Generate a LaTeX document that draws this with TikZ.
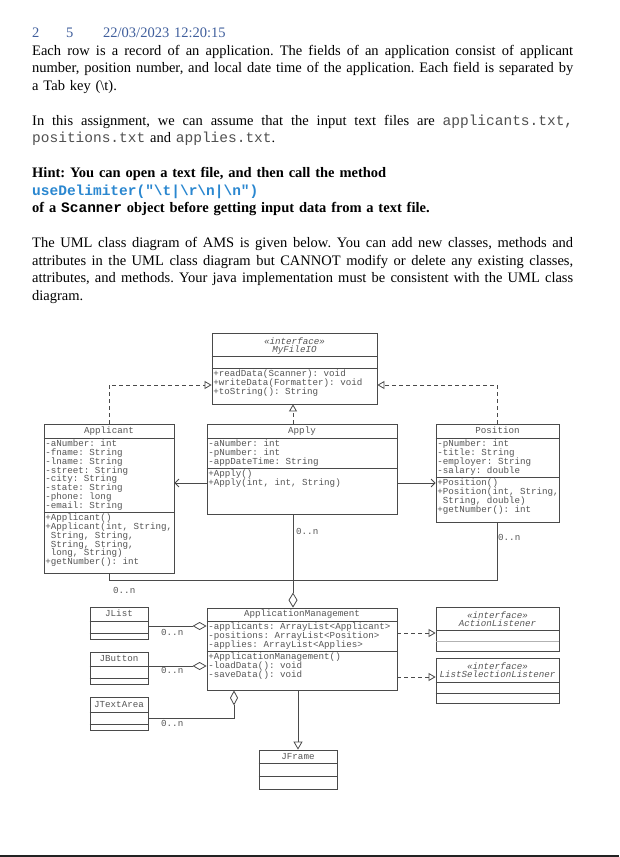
\documentclass[tikz,border=0pt]{standalone}
\usepackage{fontspec}
\setmainfont{Liberation Serif}
\setmonofont{Liberation Mono}
\usetikzlibrary{arrows.meta, positioning, fit}
\definecolor{clrDate}{HTML}{3F5E9C}
\definecolor{clrCode}{HTML}{505050}
\definecolor{clrHint}{HTML}{2A87D0}
\definecolor{clrLine}{HTML}{4A4A4A}
\definecolor{clrMember}{HTML}{555555}
\definecolor{clrBar}{HTML}{222222}

\begin{document}
\begin{tikzpicture}[
  x=1pt, y=-1pt,
  prose/.style = {
    anchor=north west,
    inner sep=0pt,
    text width=541pt,
    font={\fontsize{14.5}{17.5}\selectfont\frenchspacing\setlength\parindent{0pt}}
  },
  classbox/.style = {draw=clrLine, line width=0.8pt, inner sep=0pt},
  compsep/.style = {draw=clrLine, line width=0.8pt},
  classname/.style = {
    inner sep=0pt,
    font=\ttfamily\fontsize{9.2}{8.8}\selectfont,
    text=clrMember,
    text height=6.2pt, text depth=1.8pt
  },
  ifacename/.style = {
    inner sep=0pt, align=center,
    font=\ttfamily\itshape\fontsize{9.2}{8.4}\selectfont,
    text=clrMember
  },
  members/.style = {
    anchor=north west,
    inner xsep=1.5pt, inner ysep=1.9pt,
    align=left,
    font=\ttfamily\fontsize{9.2}{8.8}\selectfont,
    text=clrMember
  },
  mult/.style = {anchor=west, inner sep=0pt, font=\ttfamily\fontsize{9.2}{8.8}\selectfont, text=clrMember},
  assoc/.style = {draw=clrLine, line width=0.8pt},
  realize/.style = {assoc, dash pattern=on 4pt off 3pt, -{Triangle[open, length=7pt, width=8pt]}},
  inherit/.style = {assoc, -{Triangle[open, length=8pt, width=9pt]}},
  navig/.style = {assoc, -{Straight Barb[length=4pt, width=8pt]}},
  aggreg/.style = {assoc, -{Diamond[open, length=14pt, width=8pt]}}
]

% ── page ─────────────────────────────────────────────────────────────────────
\fill[white] (0,0) rectangle (619,857);
\useasboundingbox (0,0) rectangle (619,857);
\fill[clrBar] (0,854.5) rectangle (619,857);

% ── prose (justified lines are spread by hand) ───────────────────────────────
\node[prose] (prose) at (32,25.5) {\strut
  {\color{clrDate}\makebox[34pt][l]{2}\makebox[37pt][l]{5}22/03/2023 12:20:15}\par
  \makebox[541pt]{Each \hfill row \hfill is \hfill a \hfill record \hfill of \hfill an \hfill application. \hfill The \hfill fields \hfill of \hfill an \hfill application \hfill consist \hfill of \hfill applicant}\par
  \makebox[541pt]{number, \hfill position \hfill number, \hfill and \hfill local \hfill date \hfill time \hfill of \hfill the \hfill application. \hfill Each \hfill field \hfill is \hfill separated \hfill by}\par
  a Tab key (\textbackslash t).\par
  \vspace{17.5pt}
  \makebox[541pt]{In \hfill this \hfill assignment, \hfill we \hfill can \hfill assume \hfill that \hfill the \hfill input \hfill text \hfill files \hfill are \hfill {\color{clrCode}\texttt{applicants.txt,}}}\par
  {\color{clrCode}\texttt{positions.txt}} and {\color{clrCode}\texttt{applies.txt}}.\par
  \vspace{17.5pt}
  {\bfseries Hint: You can open a text file, and then call the method\\
  {\color{clrHint}\texttt{useDelimiter("\textbackslash t|\textbackslash r\textbackslash n|\textbackslash n")}}\\
  of a \texttt{Scanner} object before getting input data from a text file.\par}
  \vspace{17.5pt}
  \makebox[541pt]{The \hfill UML \hfill class \hfill diagram \hfill of \hfill AMS \hfill is \hfill given \hfill below. \hfill You \hfill can \hfill add \hfill new \hfill classes, \hfill methods \hfill and}\par
  \makebox[541pt]{attributes \hfill in \hfill the \hfill UML \hfill class \hfill diagram \hfill but \hfill CANNOT \hfill modify \hfill or \hfill delete \hfill any \hfill existing \hfill classes,}\par
  \makebox[541pt]{attributes, \hfill and \hfill methods. \hfill Your \hfill java \hfill implementation \hfill must \hfill be \hfill consistent \hfill with \hfill the \hfill UML \hfill class}\par
  diagram.};

% ── classes ──────────────────────────────────────────────────────────────────
\node[classbox, fit={(212,333)(377,404)}] (myfileio) {};
\draw[compsep] (myfileio.west |- 0,356) -- (myfileio.east |- 0,356);
\draw[compsep] (myfileio.west |- 0,368) -- (myfileio.east |- 0,368);
\node[ifacename] (myfileio-name) at (myfileio.north |- 0,346) {«interface»\\MyFileIO};
\node[members] (myfileio-ops) at (myfileio.west |- 0,368)
  {+readData(Scanner): void\\+writeData(Formatter): void\\+toString(): String};

\node[classbox, fit={(44,424)(174,573)}] (applicant) {};
\draw[compsep] (applicant.west |- 0,438) -- (applicant.east |- 0,438);
\draw[compsep] (applicant.west |- 0,512) -- (applicant.east |- 0,512);
\node[classname] (applicant-name) at (applicant.north |- 0,431) {Applicant};
\node[members] (applicant-attrs) at (applicant.west |- 0,438)
  {-aNumber: int\\-fname: String\\-lname: String\\-street: String\\-city: String\\-state: String\\-phone: long\\-email: String};
\node[members] (applicant-ops) at (applicant.west |- 0,512)
  {+Applicant()\\+Applicant(int, String,\\\hphantom{+}String, String,\\\hphantom{+}String, String,\\\hphantom{+}long, String)\\+getNumber(): int};

\node[classbox, fit={(207,424)(397,514)}] (apply) {};
\draw[compsep] (apply.west |- 0,438) -- (apply.east |- 0,438);
\draw[compsep] (apply.west |- 0,468) -- (apply.east |- 0,468);
\node[classname] (apply-name) at (apply.north |- 0,431) {Apply};
\node[members] (apply-attrs) at (apply.west |- 0,438)
  {-aNumber: int\\-pNumber: int\\-appDateTime: String};
\node[members] (apply-ops) at (apply.west |- 0,468)
  {+Apply()\\+Apply(int, int, String)};

\node[classbox, fit={(436,424)(559,522)}] (position) {};
\draw[compsep] (position.west |- 0,438) -- (position.east |- 0,438);
\draw[compsep] (position.west |- 0,477) -- (position.east |- 0,477);
\node[classname] (position-name) at (position.north |- 0,431) {Position};
\node[members] (position-attrs) at (position.west |- 0,438)
  {-pNumber: int\\-title: String\\-employer: String\\-salary: double};
\node[members] (position-ops) at (position.west |- 0,477)
  {+Position()\\+Position(int, String,\\\hphantom{+}String, double)\\+getNumber(): int};

\node[classbox, fit={(207,608)(397,690)}] (appmgmt) {};
\draw[compsep] (appmgmt.west |- 0,621) -- (appmgmt.east |- 0,621);
\draw[compsep] (appmgmt.west |- 0,651) -- (appmgmt.east |- 0,651);
\node[classname] (appmgmt-name) at (appmgmt.north |- 0,614) {ApplicationManagement};
\node[members] (appmgmt-attrs) at (appmgmt.west |- 0,621)
  {-applicants: ArrayList<Applicant>\\-positions: ArrayList<Position>\\-applies: ArrayList<Applies>};
\node[members] (appmgmt-ops) at (appmgmt.west |- 0,651)
  {+ApplicationManagement()\\-loadData(): void\\-saveData(): void};

\node[classbox, fit={(90,607)(148,639)}] (jlist) {};
\draw[compsep] (jlist.west |- 0,621) -- (jlist.east |- 0,621);
\draw[compsep] (jlist.west |- 0,633) -- (jlist.east |- 0,633);
\node[classname] (jlist-name) at (jlist.north |- 0,614) {JList};

\node[classbox, fit={(90,652)(148,684)}] (jbutton) {};
\draw[compsep] (jbutton.west |- 0,666) -- (jbutton.east |- 0,666);
\draw[compsep] (jbutton.west |- 0,678) -- (jbutton.east |- 0,678);
\node[classname] (jbutton-name) at (jbutton.north |- 0,659) {JButton};

\node[classbox, fit={(90,697)(148,730)}] (jtextarea) {};
\draw[compsep] (jtextarea.west |- 0,712) -- (jtextarea.east |- 0,712);
\draw[compsep] (jtextarea.west |- 0,724) -- (jtextarea.east |- 0,724);
\node[classname] (jtextarea-name) at (jtextarea.north |- 0,705) {JTextArea};

\node[classbox, fit={(259,750)(337,789)}] (jframe) {};
\draw[compsep] (jframe.west |- 0,763) -- (jframe.east |- 0,763);
\draw[compsep] (jframe.west |- 0,776) -- (jframe.east |- 0,776);
\node[classname] (jframe-name) at (jframe.north |- 0,757) {JFrame};

\node[classbox, fit={(436,607)(559,651)}] (actionl) {};
\draw[compsep] (actionl.west |- 0,630) -- (actionl.east |- 0,630);
\draw[compsep, draw=black!30] (actionl.west |- 0,641) -- (actionl.east |- 0,641);
\node[ifacename] (actionl-name) at (actionl.north |- 0,619) {«interface»\\ActionListener};

\node[classbox, fit={(436,658)(559,703)}] (listsel) {};
\draw[compsep] (listsel.west |- 0,682) -- (listsel.east |- 0,682);
\draw[compsep] (listsel.west |- 0,693) -- (listsel.east |- 0,693);
\node[ifacename] (listsel-name) at (listsel.north |- 0,670) {«interface»\\ListSelectionListener};

% ── connectors ───────────────────────────────────────────────────────────────
\coordinate (hub) at (293,580);
\coordinate (ifacerow) at (0,385);
\coordinate (navrow) at (0,483);
\coordinate (listrow) at (0,626);
\coordinate (buttonrow) at (0,666);
\coordinate (textjoint) at (234,718);
\coordinate (actionrow) at (0,633);
\coordinate (selrow) at (0,677);

\draw[realize] (applicant.north) |- (myfileio.west |- ifacerow);
\draw[realize] (position.north) |- (myfileio.east |- ifacerow);
\draw[realize] (apply.north -| hub) -- (myfileio.south -| hub);

\draw[navig] (apply.west |- navrow) -- (applicant.east |- navrow);
\draw[navig] (apply.east |- navrow) -- (position.west |- navrow);

\draw[assoc] (applicant.south) |- (hub);
\draw[assoc] (position.south) |- (hub);
\draw[assoc] (apply.south -| hub) -- (hub);
\draw[aggreg, -{Diamond[open, length=15pt, width=9pt]}] (hub) -- (appmgmt.north -| hub);

\draw[aggreg] (jlist.east |- listrow) -- (appmgmt.west |- listrow);
\draw[aggreg] (jbutton.east |- buttonrow) -- (appmgmt.west |- buttonrow);
\draw[aggreg, -{Diamond[open, length=15pt, width=8pt]}] (jtextarea.east |- textjoint) -- (textjoint) -- (appmgmt.south -| textjoint);

\draw[inherit] (appmgmt.south -| jframe.north) -- (jframe.north);

\draw[realize] (appmgmt.east |- actionrow) -- (actionl.west |- actionrow);
\draw[realize] (appmgmt.east |- selrow) -- (listsel.west |- selrow);

% ── multiplicities ───────────────────────────────────────────────────────────
\node[mult] (mult-apply) at (296,531) {0..n};
\node[mult] (mult-position) at (498,537) {0..n};
\node[mult] (mult-applicant) at (113,590) {0..n};
\node[mult] (mult-jlist) at (161,632) {0..n};
\node[mult] (mult-jbutton) at (161,670) {0..n};
\node[mult] (mult-jtextarea) at (161,723) {0..n};

\end{tikzpicture}
\end{document}
